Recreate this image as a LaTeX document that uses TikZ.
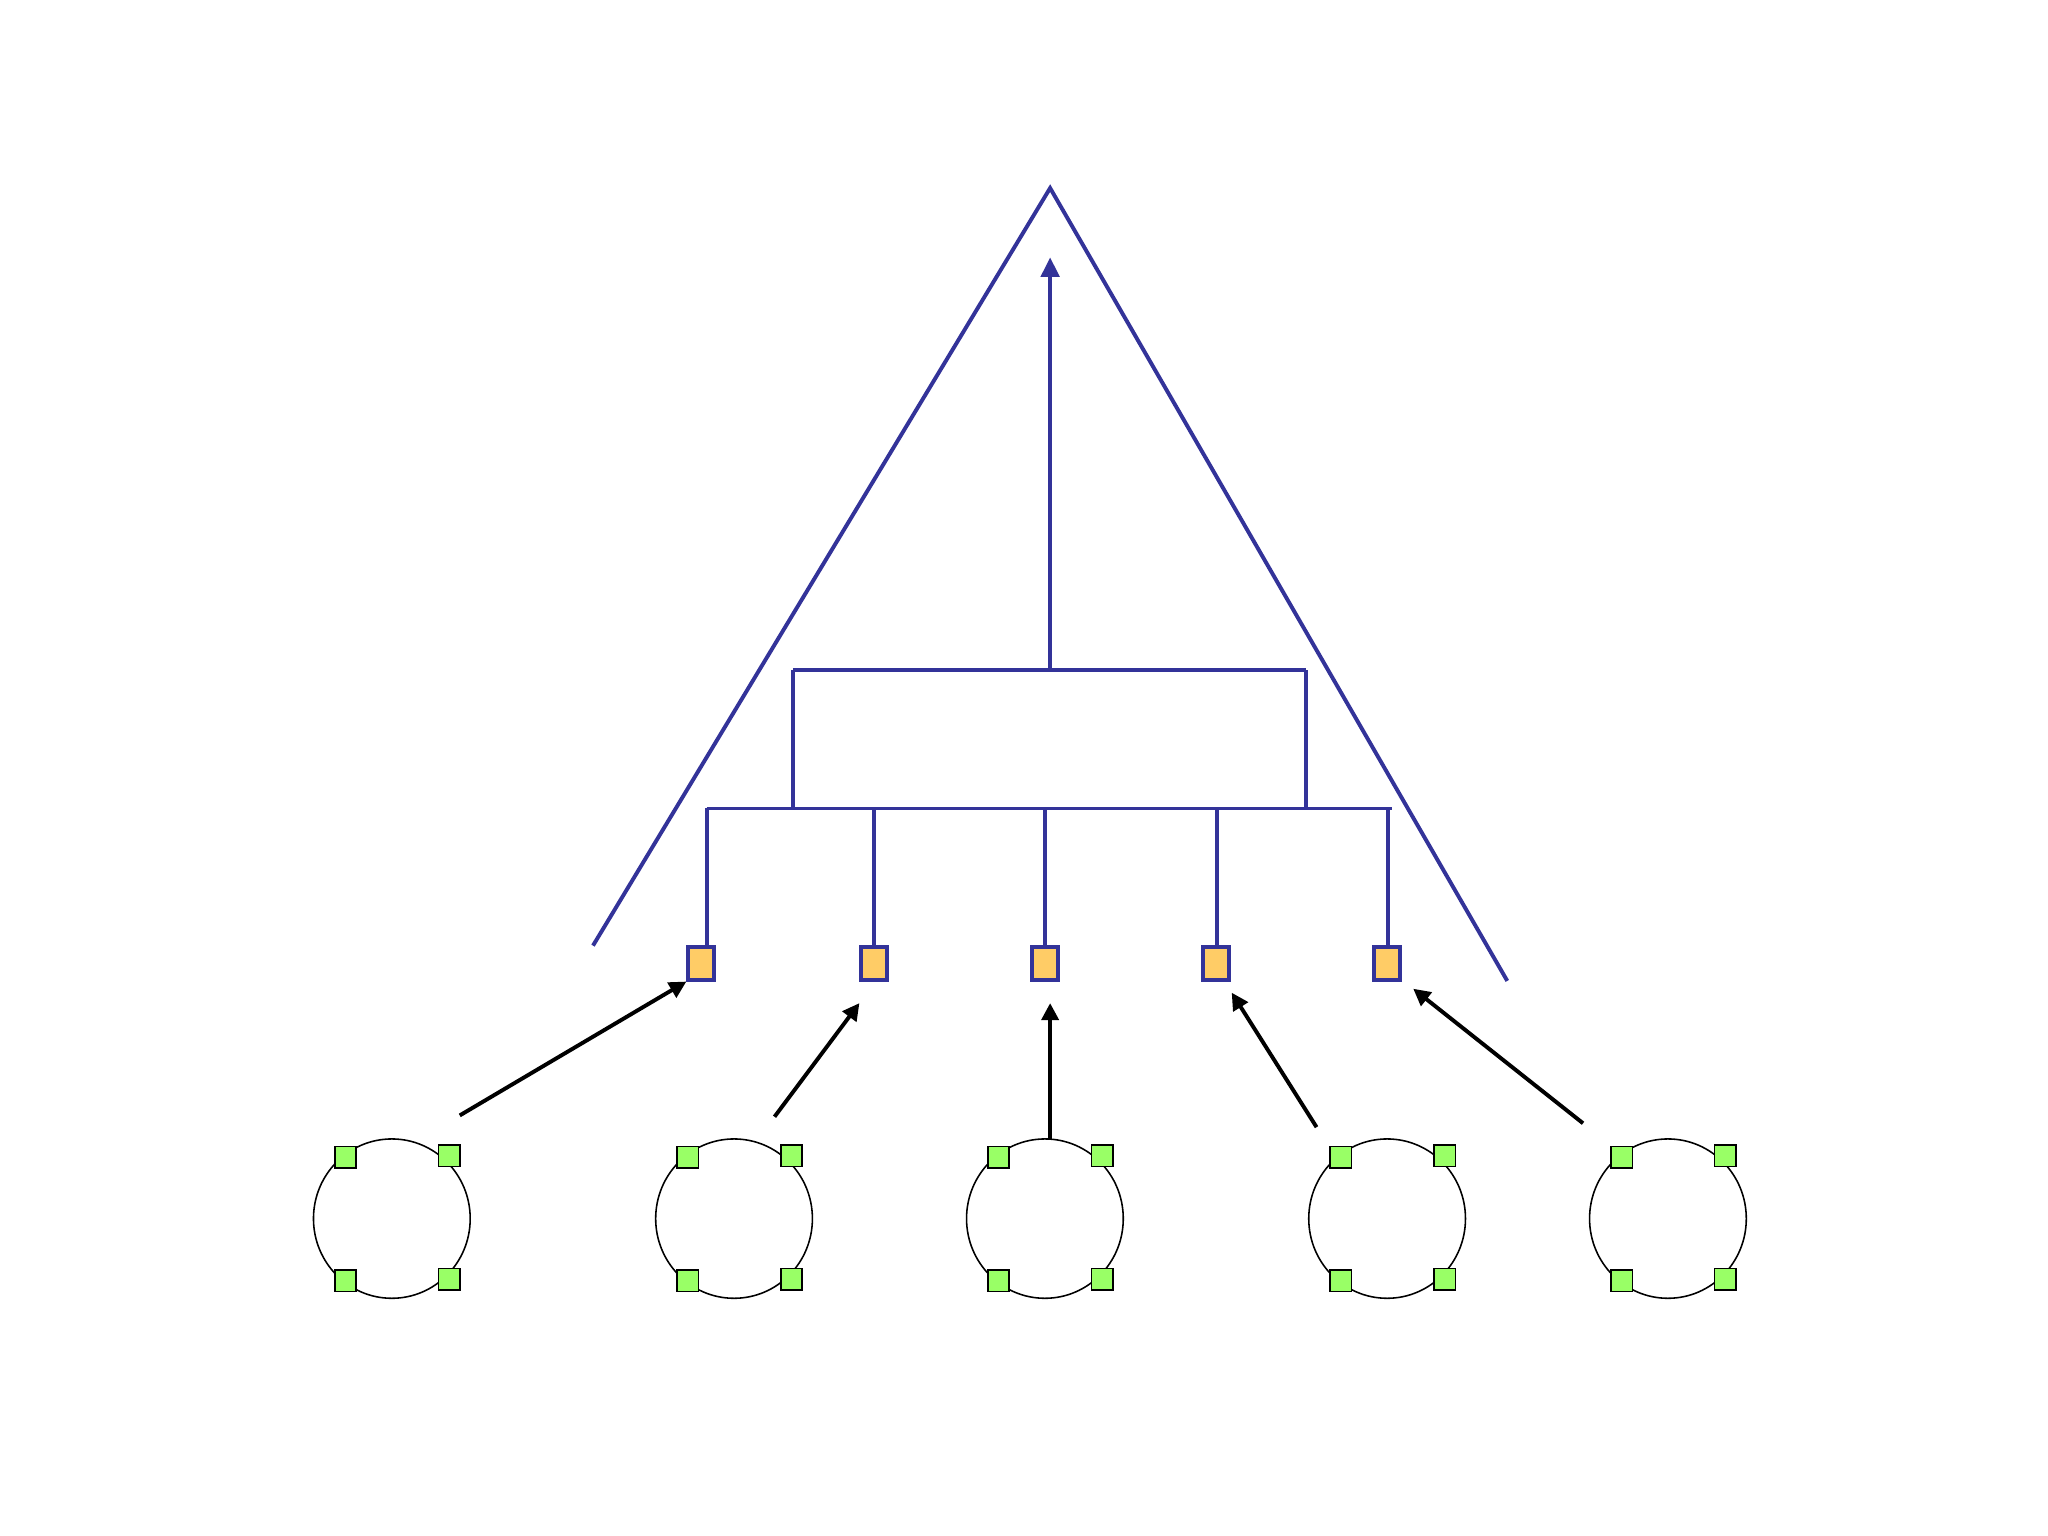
\documentclass[tikz,border=0pt]{standalone}
\usetikzlibrary{arrows.meta}
\definecolor{navy}{RGB}{51,51,153}
\definecolor{boxorange}{RGB}{255,204,102}
\definecolor{portgreen}{RGB}{153,255,102}
\tikzset{
  navyline/.style={draw=navy, line width=1.5pt},
  portbox/.style={rectangle, draw=navy, line width=1.5pt, fill=boxorange, minimum width=10pt, minimum height=12.5pt, inner sep=0pt},
  ring/.style={ellipse, draw=black, line width=0.6pt, minimum width=60pt, minimum height=61pt, inner sep=0pt},
  greenport/.style={rectangle, draw=black, line width=0.6pt, fill=portgreen, minimum size=8.2pt, inner sep=0pt},
  feed/.style={draw=black, line width=1.5pt, -{Triangle[width=6.5pt,length=6.5pt]}},
}
\usetikzlibrary{shapes.geometric}
\begin{document}
\begin{tikzpicture}[x=0.5pt,y=-0.5pt]
\useasboundingbox[fill=white] (0,0) rectangle (1568,1176);

% triangle
\coordinate (apex) at (804,144);
\coordinate (tl) at (454,724);
\coordinate (tr) at (1154,751);
\draw[navyline, line join=miter] (tl) -- (apex) -- (tr);

% tree
\coordinate (ub1) at (607,513);
\coordinate (ub2) at (1000,513);
\coordinate (um) at (804,513);
\coordinate (top) at (804,197);
\coordinate (lb1) at (541,619);
\coordinate (lb2) at (1066,619);
\coordinate (lv1) at (607,619);
\coordinate (lv2) at (1000,619);
\draw[navyline] (ub1) -- (ub2);
\draw[navyline] (ub1) -- (lv1);
\draw[navyline] (ub2) -- (lv2);
\draw[navyline] (lb1) -- (lb2);
\draw[navyline, -{Triangle[width=7pt,length=7.5pt]}] (um) -- (top);

% orange boxes
\node[portbox] (o1) at (537,737.5) {};
\node[portbox] (o2) at (669,737.5) {};
\node[portbox] (o3) at (800,737.5) {};
\node[portbox] (o4) at (931,737.5) {};
\node[portbox] (o5) at (1062,737.5) {};

\coordinate (d1) at (541,619);
\coordinate (d2) at (669,619);
\coordinate (d3) at (800,619);
\coordinate (d4) at (932,619);
\coordinate (d5) at (1063,619);
\draw[navyline] (d1) -- (d1 |- o1.north);
\draw[navyline] (d2) -- (o2.north);
\draw[navyline] (d3) -- (o3.north);
\draw[navyline] (d4) -- (d4 |- o4.north);
\draw[navyline] (d5) -- (d5 |- o5.north);

% rings with green ports
\foreach \i/\cx in {1/300, 2/562, 3/800, 4/1062, 5/1277} {
  \node[ring] (r\i) at (\cx,933) {};
  \node[greenport] (g\i a) at (\cx-35.5,886) {};
  \node[greenport] (g\i b) at (\cx+44,885) {};
  \node[greenport] (g\i c) at (\cx-35.5,980.5) {};
  \node[greenport] (g\i d) at (\cx+44,979.5) {};
}

% feed arrows
\coordinate (s1) at (352,854);
\coordinate (s2) at (593,855);
\coordinate (s3) at (804,872);
\coordinate (s4) at (1008,863);
\coordinate (s5) at (1212,860);
\coordinate (e2) at (658,768);
\coordinate (e3) at (804,768);
\coordinate (e4) at (943,760);
\coordinate (e5) at (1082,757);
\draw[feed] (s1) -- (o1.south west);
\draw[feed] (s2) -- (e2);
\draw[feed] (s3) -- (e3);
\draw[feed] (s4) -- (e4);
\draw[feed] (s5) -- (e5);
\end{tikzpicture}
\end{document}
